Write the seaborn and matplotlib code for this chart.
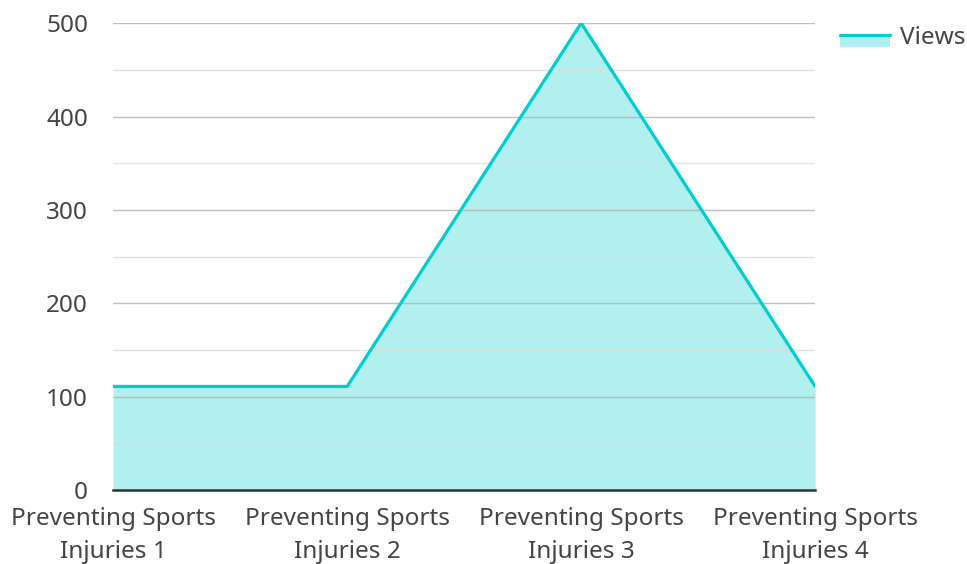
import numpy as np
import pandas as pd
import seaborn as sns
import matplotlib.pyplot as plt
from matplotlib.lines import Line2D
from matplotlib.patches import Rectangle
from matplotlib.legend_handler import HandlerBase
from matplotlib.ticker import MultipleLocator

sns.set_style('white')
plt.rcParams['font.family'] = ['Noto Sans', 'DejaVu Sans']

categories = ['Preventing Sports\nInjuries 1', 'Preventing Sports\nInjuries 2',
              'Preventing Sports\nInjuries 3', 'Preventing Sports\nInjuries 4']
views = [111, 111, 500, 111]

line_color = '#00cdcf'
fill_color = '#b2efef'
text_color = '#444444'

df = pd.DataFrame({'Topic': categories, 'Views': views})


class AreaHandler(HandlerBase):
    # line through the middle with filled band below it, like the legend swatch
    def create_artists(self, legend, orig_handle, xdescent, ydescent, width, height, fontsize, trans):
        mid = height * 0.5
        low = mid - 12 * 72 / 100
        rect = Rectangle((-xdescent, low), width, mid - low, facecolor=fill_color,
                         edgecolor='none', transform=trans)
        line = Line2D([-xdescent, -xdescent + width], [mid, mid], color=line_color,
                      lw=2.3, transform=trans)
        return [rect, line]


fig, ax = plt.subplots(figsize=(9.67, 5.64), dpi=100)
fig.subplots_adjust(left=0.117, right=0.843, top=0.959, bottom=0.131)

sns.lineplot(data=df, x='Topic', y='Views', color=line_color, lw=2.3, ax=ax, zorder=3)
ax.fill_between(np.arange(len(views)), views, color=fill_color, lw=0, zorder=0.5)

ax.set_xlim(0, len(views) - 1)
ax.set_ylim(0, 500)
ax.yaxis.set_major_locator(MultipleLocator(100))
ax.yaxis.set_minor_locator(MultipleLocator(50))
ax.grid(axis='y', which='major', color='#b0b0b0', lw=1, alpha=0.8)
ax.grid(axis='y', which='minor', color='#dcdcdc', lw=1, alpha=0.8)
ax.set_axisbelow(False)

for side in ['left', 'right', 'top']:
    ax.spines[side].set_visible(False)
ax.spines['bottom'].set_color('#333333')
ax.spines['bottom'].set_linewidth(1.8)
ax.spines['bottom'].set_zorder(4)

ax.tick_params(axis='both', which='both', length=0, labelsize=17.5, labelcolor=text_color)
ax.tick_params(axis='y', pad=18)
ax.tick_params(axis='x', pad=12)
for lab in ax.get_xticklabels():
    lab.set_linespacing(1.5)
ax.set_xlabel('')
ax.set_ylabel('')

ax.legend([Rectangle((0, 0), 1, 1)], ['Views'], handler_map={Rectangle: AreaHandler()},
          loc='upper left', bbox_to_anchor=(840 / 967, 1 - 26 / 564),
          bbox_transform=fig.transFigure, borderaxespad=0, borderpad=0,
          frameon=False, fontsize=17.5, labelcolor=text_color,
          handlelength=2.05, handletextpad=0.4)

fig.savefig('out.png', dpi=100)
